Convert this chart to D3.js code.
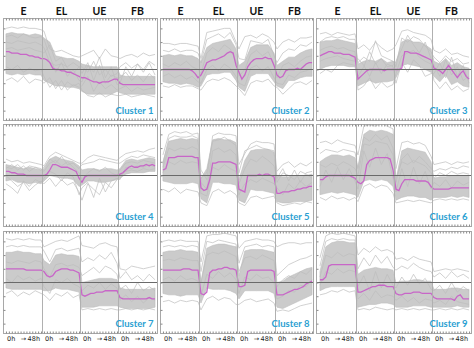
<!DOCTYPE html>
<html><head><meta charset="utf-8">
<script src="https://cdn.jsdelivr.net/npm/d3@7"></script>
<style>body{margin:0;background:#fff}svg{display:block}</style>
</head><body>
<svg id="chart" width="474" height="348"></svg>
<script>
// Treatment segments and sampling times (hours within each segment)
const sections = ["E", "EL", "UE", "FB"];
const meanHours = [0, 4, 8, 12, 16, 20, 24, 28, 32, 36, 40, 44, 48];
const traceHours = [0, 8, 16, 24, 32, 40, 48];
const yTicks = [-3, -2, -1, 0, 1, 2, 3];
const clusterNames = ["Cluster 1","Cluster 2","Cluster 3","Cluster 4","Cluster 5","Cluster 6","Cluster 7","Cluster 8","Cluster 9"];

// Cluster mean profiles: 13 time points per segment (E, EL, UE, FB)
const meanProfiles = [
  [1.3,1.3,1.2,1.2,1.2,1.1,1.1,1.1,1.0,1.0,0.9,0.9,0.8,
   0.8,0.7,0.5,0.1,0.0,0.0,-0.1,-0.1,-0.2,-0.2,-0.3,-0.4,-0.5,
   -0.6,-0.6,-0.7,-0.8,-0.9,-0.9,-1.0,-0.9,-0.9,-0.9,-0.8,-0.7,-0.7,
   -1.0,-1.1,-1.1,-1.1,-1.1,-1.1,-1.1,-1.1,-1.1,-1.1,-1.1,-1.1,-1.1],
  [0.0,0.0,0.0,0.0,0.0,0.0,0.0,0.0,0.0,0.0,-0.1,-0.3,-0.6,
   -0.4,0.0,0.5,0.6,0.7,0.7,0.8,0.9,1.0,1.2,1.3,1.2,0.3,
   -0.2,-0.7,-0.4,0.2,0.5,0.7,0.8,0.8,0.8,0.9,0.8,0.8,0.3,
   -0.4,-0.6,-0.5,-0.1,0.0,0.0,0.0,0.1,0.0,0.2,0.4,0.5,0.5],
  [1.0,1.1,1.2,1.3,1.3,1.2,1.2,1.2,1.1,1.1,1.1,1.0,0.9,
   -0.7,-0.5,-0.3,-0.1,0.0,0.0,0.0,0.0,0.0,-0.1,0.0,0.0,0.0,
   0.0,0.0,0.1,1.3,1.3,1.2,1.2,1.2,1.1,1.0,0.9,0.8,0.7,
   0.1,0.0,-0.1,-0.3,0.0,0.3,0.0,-0.3,-0.6,-0.3,-0.1,-0.5,-0.7],
  [0.3,0.3,0.2,0.2,0.1,0.1,0.1,0.0,0.0,0.0,0.0,0.0,0.0,
   0.0,0.1,0.4,0.8,0.8,0.7,0.6,0.6,0.6,0.5,0.4,0.3,-0.2,
   -0.5,-0.1,0.0,0.0,0.0,0.0,0.0,0.0,0.0,0.0,0.0,0.0,0.0,
   0.1,0.2,0.4,0.6,0.7,0.6,0.6,0.7,0.7,0.8,0.7,0.8,0.7],
  [0.4,0.5,1.3,1.3,1.3,1.4,1.4,1.4,1.4,1.4,1.4,1.3,1.3,
   -0.9,-1.1,-1.0,-0.3,0.9,0.9,1.0,1.0,1.0,1.0,1.0,0.9,0.8,
   -1.0,-1.1,-1.2,0.0,0.0,0.0,0.0,0.1,0.0,0.1,0.1,0.0,-0.1,
   -1.3,-1.3,-1.2,-1.2,-1.2,-1.1,-1.1,-1.0,-1.0,-0.9,-0.9,-0.8,-0.8],
  [-0.3,-0.3,-0.1,0.0,0.0,0.0,0.0,0.0,0.0,0.0,0.0,-0.1,-0.2,
   -0.5,-0.6,-0.4,0.8,1.1,1.2,1.3,1.3,1.3,1.3,1.3,1.2,0.4,
   -1.0,-1.1,-0.6,-0.3,-0.3,-0.3,-0.3,-0.4,-0.4,-0.4,-0.4,-0.5,-0.8,
   -1.0,-1.0,-1.0,-1.0,-1.0,-1.0,-0.9,-0.9,-0.9,-0.9,-0.9,-0.9,-0.9],
  [1.0,1.0,1.0,1.0,1.0,1.0,1.0,0.9,0.9,0.9,0.9,0.9,0.9,
   0.8,0.5,0.4,0.5,0.8,0.9,1.0,1.0,1.0,0.9,0.9,0.8,0.7,
   -0.9,-1.0,-0.9,-0.8,-0.8,-0.7,-0.7,-0.7,-0.6,-0.6,-0.6,-0.6,-0.6,
   -1.1,-1.2,-1.2,-1.2,-1.2,-1.2,-1.2,-1.2,-1.2,-1.2,-1.1,-1.2,-1.2],
  [0.9,0.9,0.9,0.9,0.9,0.9,0.9,1.0,1.0,1.0,0.9,0.9,0.9,
   -0.8,-0.9,-0.7,0.7,0.9,0.9,1.0,1.0,1.1,1.1,1.0,1.0,0.9,
   -0.3,-0.3,-0.2,0.8,0.9,0.9,0.9,0.9,0.9,0.9,0.9,0.9,0.8,
   -0.9,-0.9,-0.9,-0.8,-0.7,-0.6,-0.5,-0.5,-0.4,-0.3,-0.1,0.0,0.1],
  [0.2,0.2,0.4,1.2,1.3,1.3,1.3,1.3,1.3,1.3,1.3,1.3,1.3,
   -0.7,-0.7,-0.6,-0.5,-0.4,-0.3,-0.3,-0.2,-0.2,-0.2,-0.3,-0.3,-0.3,
   -0.8,-0.9,-0.9,-0.8,-0.8,-0.8,-0.7,-0.7,-0.7,-0.8,-0.8,-0.8,-0.8,
   -1.1,-1.2,-1.2,-1.2,-1.2,-1.2,-1.2,-1.3,-1.0,-0.9,-1.2,-1.2,-1.2]
];

// Upper / lower edge of the dense bundle of member profiles (7 points per segment)
const bandUpper = [
  [2.6,2.7,2.6,2.6,2.5,2.6,2.5, 2.3,2.0,1.0,0.9,0.8,0.8,0.6, 0.4,0.3,0.2,0.2,0.2,0.2,0.2, -0.4,-0.5,-0.5,-0.5,-0.5,-0.5,-0.5],
  [1.0,1.1,1.0,1.1,1.0,1.0,0.8, 0.5,1.6,1.9,2.0,2.1,2.2,1.5, 0.3,0.6,1.6,1.8,1.8,1.8,1.2, 0.3,0.6,0.9,0.9,1.2,1.4,1.5],
  [2.0,2.1,2.1,2.2,2.1,2.0,1.9, 0.4,0.6,0.7,0.6,0.8,0.5,0.6, 0.5,2.0,2.2,2.0,2.0,1.8,1.5, 0.6,0.4,0.8,0.3,0.5,0.2,0.1],
  [0.8,0.7,0.6,0.5,0.6,0.5,0.4, 0.5,1.2,1.4,1.2,1.1,1.0,0.7, 0.4,0.5,0.5,0.4,0.5,0.5,0.4, 0.5,1.1,1.2,1.1,1.2,1.3,1.2],
  [1.0,2.5,2.6,2.7,2.6,2.7,2.6, -0.2,0.5,2.6,2.7,2.6,2.6,2.4, -0.3,1.1,1.8,1.9,1.9,1.9,1.7, 0.0,-0.1,-0.1,0.0,0.0,0.0,0.1],
  [1.0,1.3,1.5,1.5,1.4,1.5,1.3, 0.6,3.0,3.3,3.2,3.3,3.2,3.0, -0.3,1.8,2.0,1.9,1.8,1.7,1.0, -0.2,-0.1,-0.1,0.0,0.0,0.0,0.0],
  [2.2,2.2,2.3,2.2,2.2,2.1,2.1, 1.6,1.3,2.0,2.1,2.0,2.0,1.9, 0.0,0.1,0.2,0.3,0.3,0.3,0.2, -0.4,-0.5,-0.5,-0.5,-0.5,-0.5,-0.4],
  [2.2,2.3,2.3,2.4,2.3,2.3,2.2, 0.0,2.5,2.7,2.8,2.8,2.7,2.6, 0.5,2.3,2.4,2.4,2.4,2.3,2.2, 0.0,0.1,0.4,0.6,0.8,1.0,1.1],
  [0.8,2.6,2.9,3.0,3.0,2.9,2.9, 0.6,0.9,1.0,1.1,1.0,1.0,0.9, 0.0,0.1,0.1,0.2,0.2,0.1,0.1, -0.5,-0.5,-0.5,-0.4,-0.4,-0.5,-0.5]
];
const bandLower = [
  [-0.3,-0.4,-0.3,-0.4,-0.3,-0.4,-0.4, -0.8,-1.0,-1.2,-1.2,-1.3,-1.3,-1.4, -1.6,-1.8,-1.8,-1.8,-1.8,-1.8,-1.6, -1.7,-1.8,-1.8,-1.8,-1.8,-1.8,-1.8],
  [-0.9,-1.0,-1.0,-1.1,-1.0,-1.1,-1.3, -1.2,-0.4,-0.3,-0.3,-0.2,-0.2,-0.8, -1.3,-1.6,-0.5,-0.3,-0.3,-0.3,-0.9, -1.2,-1.4,-0.8,-0.8,-0.6,-0.5,-0.5],
  [0.0,0.2,0.3,0.3,0.3,0.2,0.2, -1.2,-1.0,-0.8,-1.0,-0.9,-0.9,-0.8, -0.6,0.3,0.4,0.3,0.2,0.0,-0.2, -0.5,-0.9,-0.4,-1.1,-0.9,-1.2,-1.3],
  [-0.4,-0.3,-0.5,-0.5,-0.6,-0.5,-0.6, -0.4,0.0,-0.1,-0.2,-0.2,-0.3,-0.8, -0.7,-0.4,-0.4,-0.5,-0.5,-0.4,-0.3, -0.2,0.1,0.2,0.2,0.2,0.3,0.3],
  [-0.4,-0.5,-0.6,-0.6,-0.6,-0.5,-0.6, -1.7,-2.0,-0.5,-0.5,-0.6,-0.6,-0.7, -1.8,-2.0,-1.0,-1.1,-1.1,-1.2,-1.3, -1.9,-2.0,-2.0,-1.9,-1.9,-1.9,-1.8],
  [-1.4,-1.3,-1.2,-1.3,-1.2,-1.3,-1.4, -1.6,-0.4,-0.3,-0.4,-0.3,-0.4,-0.8, -1.8,-1.6,-1.5,-1.5,-1.6,-1.6,-1.8, -1.6,-1.6,-1.6,-1.5,-1.6,-1.5,-1.6],
  [-0.4,-0.5,-0.5,-0.5,-0.5,-0.5,-0.5, -0.6,-0.6,-0.4,-0.5,-0.5,-0.6,-0.7, -1.8,-1.8,-1.8,-1.7,-1.7,-1.7,-1.7, -1.8,-1.9,-1.9,-1.9,-1.9,-1.9,-1.8],
  [-0.8,-0.9,-0.9,-1.0,-0.9,-0.9,-0.9, -1.5,-0.4,-0.5,-0.5,-0.5,-0.6,-0.8, -1.2,-0.6,-0.6,-0.6,-0.6,-0.6,-0.8, -1.8,-1.9,-1.7,-1.5,-1.3,-1.1,-0.9],
  [-0.6,-0.4,-0.3,-0.3,-0.3,-0.3,-0.3, -1.8,-1.7,-1.6,-1.6,-1.5,-1.5,-1.6, -1.8,-1.8,-1.8,-1.7,-1.7,-1.7,-1.8, -1.8,-1.8,-1.8,-1.8,-1.7,-1.8,-1.8]
];

// Individual member profiles lying outside the dense bundle (7 points per segment)
const grayTraces = [
  [
    [3.0,3.1,3.0,3.1,3.0,3.0,2.9, 2.8,1.5,1.3,1.4,1.2,1.0,0.9, 1.0,1.2,1.4,0.8,1.5,1.0,0.9, 0.8,1.0,1.1,0.9,1.2,1.0,1.1],
    [2.0,1.9,2.1,2.0,1.9,2.0,1.8, 1.6,0.5,0.3,0.4,0.2,0.5,0.2, 0.2,-0.2,0.6,-0.4,0.0,-0.5,-0.3, 0.2,0.5,0.1,0.4,0.0,0.6,0.3],
    [0.2,0.0,0.3,-0.2,0.1,-0.1,0.0, -0.5,-1.3,-0.8,-1.5,-0.9,-1.2,-1.0, -1.5,-1.9,-2.0,-1.7,-2.0,-1.8,-1.9, -1.9,-1.8,-2.0,-1.9,-1.8,-1.9,-2.0],
    [1.5,1.6,1.4,1.5,1.6,1.4,1.3, 1.2,1.8,0.6,0.9,0.1,-0.3,0.2, -0.3,0.5,-0.8,0.3,-1.0,-0.4,-0.6, -0.6,-0.2,-0.8,-0.4,-0.9,-0.3,-0.7],
    [-0.8,-0.6,-0.9,-0.5,-1.0,-0.7,-0.8, -1.0,-0.6,-1.4,-0.8,-1.5,-1.1,-1.3, -1.2,-0.5,-1.6,-0.9,-1.4,-1.1,-1.5, -1.4,-1.2,-1.6,-1.3,-1.5,-1.4,-1.3],
    [2.4,2.5,2.3,2.6,2.4,2.3,2.4, 2.2,1.0,-0.2,0.5,-0.5,0.0,-0.8, -0.9,0.3,-0.2,0.9,-0.6,0.2,-1.1, -1.0,0.2,-0.5,0.4,-0.2,0.5,-0.4]
  ],
  [
    [1.9,1.9,1.8,1.9,1.9,1.8,1.7, 0.8,2.7,2.8,2.9,3.0,3.0,2.0, 1.5,2.4,2.5,2.3,2.6,2.4,2.0, 1.5,2.0,2.2,2.0,2.3,2.3,2.4],
    [1.4,1.3,1.5,1.3,1.4,1.4,1.2, 0.5,2.2,2.4,2.6,2.3,2.7,1.8, 0.8,0.7,2.1,2.0,1.9,2.2,1.0, 0.5,1.2,1.5,1.4,1.8,1.7,2.0],
    [-1.2,-1.3,-1.1,-1.3,-1.2,-1.2,-1.4, -1.5,-0.9,-0.7,-0.8,-0.6,-0.8,-1.2, -1.4,-1.9,-1.0,-0.8,-0.9,-0.7,-1.2, -1.3,-1.8,-1.4,-1.0,-0.9,-1.1,-0.8],
    [0.4,0.2,0.5,0.3,0.6,0.2,0.0, -0.3,1.2,1.6,1.3,1.8,1.5,0.6, -0.5,0.0,1.1,1.4,1.0,1.3,0.4, -0.6,0.3,0.5,0.2,0.6,0.9,1.0],
    [-0.5,-0.3,-0.6,-0.4,-0.7,-0.5,-0.9, -1.0,0.0,0.3,-0.1,0.4,0.1,-0.5, -1.0,-1.2,0.1,0.3,-0.1,0.2,-0.6, -1.0,-1.1,-0.4,-0.6,-0.2,-0.1,0.1]
  ],
  [
    [2.6,2.7,2.5,2.7,2.6,2.5,2.6, 1.5,1.8,1.4,2.0,1.6,1.3,1.5, 1.8,2.8,2.9,2.7,2.6,2.5,2.2, 1.4,1.2,1.5,1.1,1.2,1.0,0.9],
    [-0.3,0.0,-0.2,0.3,0.5,0.4,0.3, -0.5,0.2,1.3,0.4,0.8,0.2,0.3, 0.6,1.5,2.5,1.8,1.2,2.0,0.8, 0.3,-0.5,0.7,-0.4,0.2,-0.8,-0.5],
    [1.4,1.6,1.7,1.5,1.6,1.4,1.3, -1.5,-1.2,-0.6,-1.4,-0.9,-1.3,-1.1, -0.3,1.0,1.2,1.4,0.9,0.6,0.4, -0.8,-1.4,-0.9,-1.5,-1.2,-1.6,-1.4],
    [0.6,0.8,0.9,1.0,0.8,0.7,0.6, 0.8,0.3,-0.5,0.5,-0.3,0.4,0.2, -1.0,0.5,-0.2,0.7,0.3,-0.5,-0.3, -0.3,0.5,-0.6,0.9,-0.5,0.3,-1.0],
    [2.0,2.3,2.4,2.3,2.4,2.2,2.2, 0.5,0.9,0.6,2.1,1.0,0.8,0.6, 0.2,2.3,2.0,2.4,2.2,1.7,1.3, 0.9,0.5,1.0,0.6,0.8,0.4,0.5]
  ],
  [
    [1.2,1.0,1.1,0.9,1.0,0.9,0.8, 0.7,1.4,1.7,1.5,1.3,1.1,0.9, 0.9,1.3,1.5,1.4,1.3,1.2,1.1, 1.3,1.6,1.7,1.8,1.7,1.9,2.0],
    [0.0,-0.4,-0.8,-0.5,-1.1,-0.7,-0.4, -0.6,-0.2,-0.8,-0.3,-0.7,-0.5,-1.2, -1.8,-0.6,-1.0,-1.4,-0.5,-0.9,-0.3, 0.0,0.3,0.4,0.3,0.5,0.4,0.5],
    [0.5,0.8,0.4,0.7,0.3,0.6,0.4, 0.6,1.2,0.9,1.4,0.8,0.9,0.5, 0.8,0.9,1.0,1.2,1.1,1.0,0.9, 0.9,1.2,1.4,1.3,1.5,1.4,1.3],
    [-0.6,-0.9,-1.3,-0.4,-0.8,-0.3,-0.5, -0.2,0.3,0.1,-0.4,0.2,-0.1,-1.4, -0.9,-0.5,-1.6,-0.2,-1.2,-0.4,-0.2, -0.3,0.6,0.5,0.7,0.6,0.8,0.6],
    [0.6,0.5,0.8,0.4,0.7,0.6,0.5, 0.3,0.9,1.1,0.7,1.0,0.6,0.2, -0.3,0.2,0.5,0.3,0.6,0.2,0.0, 0.4,0.9,1.0,0.9,1.1,1.0,0.9]
  ],
  [
    [1.5,3.0,3.2,3.1,3.2,3.0,3.1, 0.4,-0.3,2.9,3.1,3.0,3.0,2.9, 0.8,1.6,2.3,2.5,2.4,2.4,2.3, 0.3,0.8,1.0,0.6,0.9,0.7,1.0],
    [-1.0,-1.2,-0.9,-1.3,-1.0,-1.1,-1.2, -2.0,-2.2,-1.2,-1.0,-1.3,-1.1,-1.4, -2.0,-2.2,-1.6,-1.5,-1.7,-1.6,-1.5, -2.0,-2.2,-2.1,-2.0,-2.1,-1.9,-2.0],
    [0.6,2.0,1.8,2.0,1.9,2.1,1.9, -0.5,-1.0,1.8,2.0,1.7,1.9,1.5, -0.6,0.5,1.2,1.0,1.4,1.1,0.7, -0.2,0.5,-0.4,0.4,-0.5,0.2,0.3],
    [0.2,1.0,0.8,1.1,0.9,1.0,0.9, -1.3,-1.5,0.6,0.4,0.8,0.5,0.3, -1.4,-0.6,-0.3,-0.5,-0.2,-0.4,-0.6, -0.9,-1.4,-0.6,-1.0,-0.4,-0.8,-0.5],
    [0.9,2.7,2.9,2.8,2.8,2.9,2.7, -0.2,0.2,2.5,2.6,2.8,2.5,2.2, 0.2,1.8,2.0,2.2,2.0,1.9,1.8, -0.5,0.2,0.0,-0.3,0.3,0.1,-0.2]
  ],
  [
    [2.4,2.5,2.3,2.6,2.4,2.3,2.2, 1.5,3.6,3.7,3.6,3.8,3.6,3.4, 0.5,2.4,2.5,2.3,2.4,2.2,1.4, 0.8,0.9,1.0,0.8,1.0,0.9,1.0],
    [1.6,1.9,1.8,1.7,1.9,1.8,1.7, 0.5,2.8,2.5,3.0,2.6,2.9,2.0, -0.5,1.2,1.6,0.9,1.4,1.0,0.5, 0.3,0.5,0.4,0.6,0.5,0.7,0.6],
    [-1.6,-1.8,-1.5,-1.7,-1.6,-1.8,-1.6, -1.9,-0.8,-0.6,-0.9,-0.7,-0.8,-1.3, -2.0,-1.9,-1.8,-1.9,-1.8,-1.9,-2.0, -1.8,-1.7,-1.8,-1.7,-1.8,-1.7,-1.8],
    [-0.8,0.4,-0.5,0.6,-0.3,0.5,-0.4, -1.0,1.8,0.6,2.0,0.8,1.6,-0.2, -1.2,0.5,-0.8,0.6,-0.6,0.3,-1.0, -0.5,-0.8,-0.3,-0.9,-0.4,-0.7,-0.5],
    [0.8,0.6,0.9,0.7,1.0,0.8,0.5, 0.0,2.3,2.2,2.5,2.4,2.3,1.5, -0.2,1.0,0.8,1.1,0.9,0.7,0.2, -0.2,0.2,0.0,0.3,0.1,0.2,0.1]
  ],
  [
    [3.2,3.1,3.2,3.1,3.2,3.1,3.1, 2.6,2.8,3.0,3.1,3.0,3.2,3.4, 2.7,2.6,2.5,2.8,2.9,2.7,2.6, 1.0,0.9,1.2,1.1,1.0,1.1,1.2],
    [2.6,2.7,2.6,2.7,2.6,2.6,2.6, 2.3,1.5,2.4,2.5,2.3,2.4,2.5, 1.5,1.8,1.6,2.0,1.7,2.2,1.4, 0.3,0.8,0.2,0.5,0.1,0.6,0.2],
    [-0.8,-0.6,-1.0,-0.7,-0.9,-0.6,-0.8, -0.9,-1.3,-0.8,-1.0,-0.7,-1.1,-0.9, -2.0,-1.9,-2.0,-1.9,-2.0,-1.9,-2.0, -2.0,-1.9,-2.0,-1.9,-2.0,-1.9,-2.0],
    [1.5,1.4,1.6,1.5,1.4,1.6,1.5, 1.0,0.4,1.3,1.4,1.2,1.3,1.1, 0.5,0.8,1.1,0.7,1.2,1.0,0.6, -0.5,-0.2,-0.8,0.0,-0.6,-0.3,-0.6],
    [0.3,0.0,0.5,0.2,0.4,0.1,0.3, -0.3,-0.8,0.2,0.0,0.3,-0.1,-0.3, -0.6,-0.2,-0.4,0.0,-0.5,-0.1,-0.4, -1.3,-0.9,-1.4,-1.0,-1.5,-1.1,-1.3]
  ],
  [
    [3.0,3.1,3.0,3.1,3.0,3.0,3.0, 1.5,3.4,3.5,3.5,3.6,3.5,3.4, 2.5,3.0,3.1,3.2,3.1,3.1,3.0, 2.6,2.8,2.9,2.9,2.8,2.9,2.9],
    [-1.4,-1.3,-1.5,-1.3,-1.4,-1.3,-1.4, -2.0,-1.2,-1.0,-1.3,-1.1,-1.2,-1.6, -1.6,-1.3,-1.2,-1.4,-1.3,-1.2,-1.5, -2.1,-2.0,-2.1,-1.9,-1.7,-1.6,-1.5],
    [2.6,2.7,2.6,2.7,2.6,2.7,2.6, 0.8,3.0,2.9,3.1,3.0,2.9,2.8, 1.4,2.6,2.7,2.8,2.6,2.7,2.6, 0.5,0.9,1.3,1.5,1.7,1.8,2.0],
    [0.2,0.4,0.1,0.5,0.2,0.3,0.1, -1.0,0.6,0.3,0.8,0.4,0.7,0.2, -0.8,0.4,0.2,0.6,0.3,0.4,0.0, -1.2,-1.0,-0.6,-0.7,-0.2,-0.3,0.2],
    [1.6,1.7,1.6,1.8,1.7,1.6,1.6, 0.0,2.0,2.2,2.1,2.3,2.1,1.9, 0.8,1.8,1.9,1.7,2.0,1.8,1.6, -0.3,0.2,0.5,0.3,0.8,0.6,1.0]
  ],
  [
    [1.8,3.4,3.6,3.5,3.6,3.5,3.4, 2.0,2.5,2.2,2.6,2.3,2.4,2.2, 1.7,1.8,1.6,1.9,1.7,1.6,1.5, 0.8,0.9,1.0,0.9,1.0,0.9,0.8],
    [1.2,3.0,3.2,3.1,3.2,3.1,3.1, 1.0,1.8,1.2,2.0,1.4,1.9,1.1, 0.9,1.2,1.0,1.4,1.1,0.9,0.8, 0.4,0.7,0.3,0.8,0.4,0.6,0.3],
    [-0.9,-0.8,-0.6,-0.7,-0.5,-0.7,-0.6, -2.0,-1.9,-2.0,-1.8,-1.9,-2.0,-1.9, -2.0,-1.9,-2.0,-1.9,-2.0,-1.9,-2.0, -2.0,-1.9,-2.0,-1.9,-2.0,-1.9,-2.0],
    [0.4,2.0,1.8,2.2,1.9,2.1,2.0, -0.3,0.5,-0.6,0.8,-0.4,0.6,-0.2, -0.4,0.4,-0.2,0.6,-0.1,0.3,-0.5, -0.6,-0.2,-0.8,0.0,-0.7,-0.3,-0.6],
    [-0.2,0.8,0.6,1.0,0.7,0.9,0.8, -1.2,-0.8,-1.3,-0.6,-1.1,-0.9,-1.0, -1.3,-1.0,-1.4,-1.1,-1.5,-1.2,-1.3, -1.5,-1.3,-1.6,-1.0,-1.4,-1.5,-1.6]
  ]
];

// ---- layout of the 3 x 3 grid of panels ----
const colX = [3, 160, 316], colW = [154, 153, 155];
const rowY = [18, 124, 231], rowH = 102;
const font = "Lato, 'Open Sans', sans-serif";

const svg = d3.select("#chart");

clusterNames.forEach((name, k) => {
  const c = k % 3, r = Math.floor(k / 3);
  const w = colW[c], h = rowH;
  const g = svg.append("g").attr("transform", `translate(${colX[c] + 0.5},${rowY[r] + 0.5})`);

  const sx = d3.scaleBand().domain(sections).range([0, w]).round(true);
  const bw = sx.bandwidth();
  const hx = d3.scaleLinear().domain([0, 48]).range([bw * 0.5 / 13, bw * 12.5 / 13]);
  const y = d3.scaleLinear().domain([-3.72, 3.72]).range([h, 0]);

  const xAt = (i, perSeg, hours) => sx(sections[Math.floor(i / perSeg)]) + hx(hours[i % perSeg]);

  const clipId = "clip" + k;
  g.append("clipPath").attr("id", clipId)
    .append("rect").attr("width", w).attr("height", h);
  const plot = g.append("g").attr("clip-path", `url(#${clipId})`);

  // dense bundle of member profiles
  const band = d3.area()
    .x((d, i) => xAt(i, 7, traceHours))
    .y0((d, i) => y(bandLower[k][i]))
    .y1(d => y(d));
  plot.append("path").datum(bandUpper[k])
    .attr("d", band).attr("fill", "#cbcbcb").attr("stroke", "#bdbdbd").attr("stroke-width", 0.6);

  // individual outlying profiles
  const traceLine = d3.line().x((d, i) => xAt(i, 7, traceHours)).y(d => y(d));
  plot.selectAll("path.trace").data(grayTraces[k]).join("path")
    .attr("class", "trace").attr("d", traceLine)
    .attr("fill", "none").attr("stroke", "#bdbdbd").attr("stroke-width", 0.7);

  // segment separators
  g.selectAll("rect.sep").data(sections.slice(1)).join("rect")
    .attr("class", "sep")
    .attr("x", d => sx(d) - 0.5).attr("width", 1)
    .attr("y", 0).attr("height", h)
    .attr("fill", "#b0b0b0");

  // zero reference
  g.append("line").attr("x1", 0).attr("x2", w).attr("y1", Math.round(y(0))).attr("y2", Math.round(y(0)))
    .attr("stroke", "#6a6a6a").attr("stroke-width", 1.2);

  // cluster mean profile
  const meanLine = d3.line().x((d, i) => xAt(i, 13, meanHours)).y(d => y(d));
  plot.append("path").datum(meanProfiles[k]).attr("d", meanLine)
    .attr("fill", "none").attr("stroke", "#c866c8").attr("stroke-width", 1.3);

  // frame
  g.append("rect").attr("width", w).attr("height", h)
    .attr("fill", "none").attr("stroke", "#a8a8a8").attr("stroke-width", 1);

  // left ticks
  const ya = g.append("g").call(d3.axisLeft(y).tickValues(yTicks).tickSize(-2).tickFormat(""));
  ya.select(".domain").remove();
  ya.selectAll(".tick line").attr("stroke", "#8a8a8a");

  // time ticks along top and bottom edges
  sections.forEach(s => {
    const top = g.append("g").attr("transform", `translate(${sx(s)},0)`)
      .call(d3.axisTop(hx).tickValues(meanHours).tickSize(-2).tickFormat(""));
    const bot = g.append("g").attr("transform", `translate(${sx(s)},${h})`)
      .call(d3.axisBottom(hx).tickValues(meanHours).tickSize(-2).tickFormat(""));
    [top, bot].forEach(a => {
      a.select(".domain").remove();
      a.selectAll(".tick line").attr("stroke", "#8a8a8a");
    });
  });

  // cluster name
  g.append("text").attr("x", w - 4).attr("y", h - 7)
    .attr("text-anchor", "end").attr("font-family", font).attr("font-weight", 700)
    .attr("font-size", 9.5).attr("fill", "#2a9fd2").text(name);

  // segment headers on the top row
  if (r === 0) {
    g.selectAll("text.hdr").data(sections).join("text").attr("class", "hdr")
      .attr("x", d => sx(d) + bw / 2).attr("y", -4)
      .attr("text-anchor", "middle").attr("font-family", font).attr("font-weight", 700)
      .attr("font-size", 10.5).attr("fill", "#111").text(d => d);
  }

  // time labels under the bottom row
  if (r === 2) {
    sections.forEach(s => {
      const x0 = sx(s);
      const lab = [
        { t: "0h", x: x0 + 2.5, a: "start" },
        { t: "\u2192", x: x0 + bw / 2, a: "middle" },
        { t: "48h", x: x0 + bw - 2.5, a: "end" }
      ];
      g.selectAll(null).data(lab).join("text")
        .attr("x", d => d.x).attr("y", h + 7.5).attr("text-anchor", d => d.a)
        .attr("font-family", "'DejaVu Sans', sans-serif").attr("font-size", 6.5)
        .attr("fill", "#1a1a1a").text(d => d.t);
    });
  }
});
</script>
</body></html>
